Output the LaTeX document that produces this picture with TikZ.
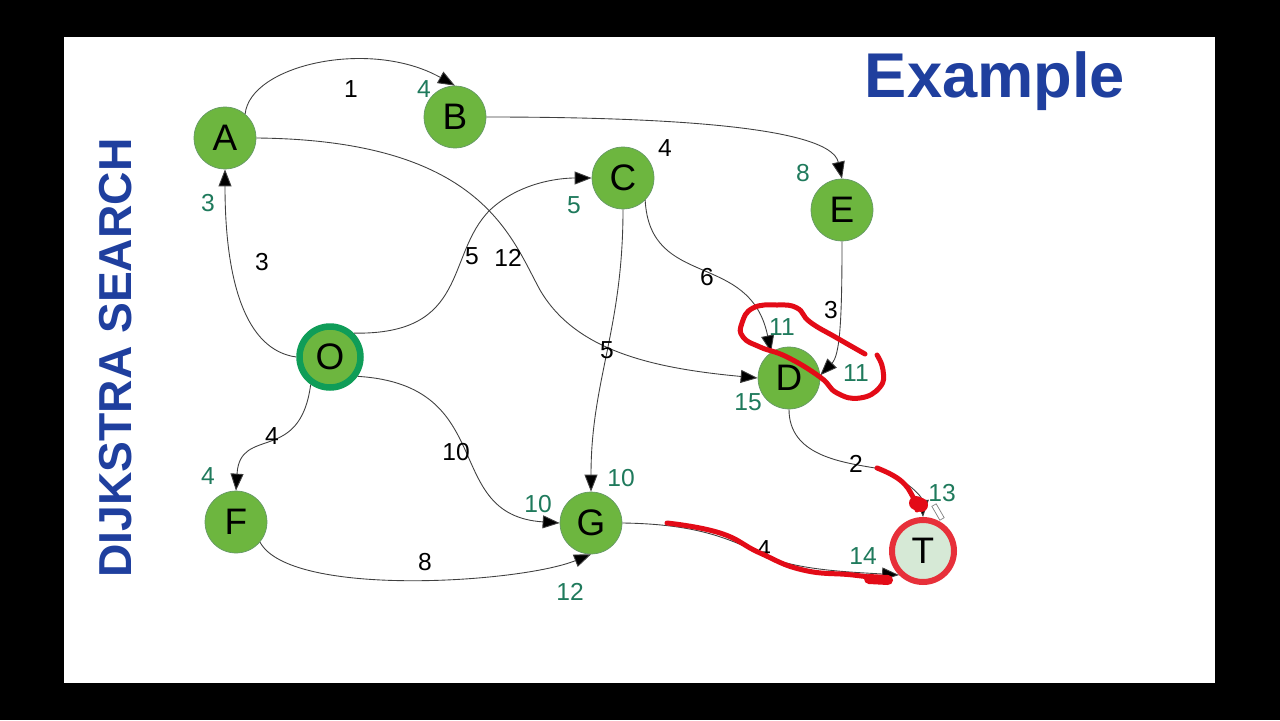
\documentclass[tikz,border=0pt]{standalone}
\usepackage{fontspec}
\setmainfont{Liberation Sans}
\usetikzlibrary{arrows.meta}
\definecolor{nodegreen}{HTML}{6DB63F}
\definecolor{costgreen}{HTML}{1F7A5C}
\definecolor{titleblue}{HTML}{1F3F9E}
\definecolor{penred}{HTML}{E30B17}
\definecolor{ringgreen}{HTML}{0F9D58}
\tikzset{
	vertex/.style={circle,draw=gray!80!green,fill=nodegreen,minimum size=1.24cm,inner sep=0pt,font=\fontsize{21}{21}\selectfont},
	edge/.style={draw=black!75,line width=0.5pt,-{Triangle[length=0.34cm,width=0.26cm,fill=black]}},
	cost/.style={font=\fontsize{14}{14}\selectfont,text=black,inner sep=0pt},
	mark cost/.style={font=\fontsize{14}{14}\selectfont,text=costgreen,inner sep=0pt},
	pen/.style={draw=penred,line width=0.1cm,line cap=round,line join=round}
}
\begin{document}
\begin{tikzpicture}[x=0.02cm,y=-0.02cm]
	\useasboundingbox (0,0) rectangle (1280,720);
	\fill[black] (0,0) rectangle (1280,720);
	\fill[white] (64,37) rectangle (1215,683);
	\node[font=\bfseries\fontsize{36}{36}\selectfont,text=titleblue] (title) at (995,81) {Example};
	\node[font=\bfseries\fontsize{26.3}{26.3}\selectfont,text=titleblue,rotate=90] (side) at (116,358) {DIJKSTRA SEARCH};
	% vertices
	\foreach \gang/\px/\py in {A/225/138,B/455/117,C/623/178,E/842/210,D/789/378,F/236/522,G/591/523}
		\node[vertex] (\gang) at (\px,\py) {\gang};
	\node[vertex,draw=ringgreen,line width=0.13cm,minimum size=1.22cm] (O) at (330,357) {O};
	\node[vertex,draw=penred!85!white,fill=green!30!gray!25,line width=0.12cm,minimum size=1.24cm] (T) at (923,551) {T};
	% edges
	\draw[edge] (A.50) .. controls (250,65) and (370,38) .. (B.north);
	\draw[edge] (A.east) .. controls (480,140) and (510,235) .. (540,290) .. controls (575,350) and (650,368) .. (D.west);
	\draw[edge] (O.west) .. controls (245,350) and (225,280) .. (A.south);
	\draw[edge] (O.45) .. controls (470,335) and (445,255) .. (490,210) .. controls (520,182) and (560,178) .. (C.west);
	\draw[edge] (C.-45) .. controls (650,290) and (750,250) .. (D.125);
	\draw[edge] (C.south) .. controls (623,330) and (591,380) .. (G.north);
	\draw[edge] (B.east) .. controls (650,117) and (830,125) .. (E.north);
	\draw[edge] (E.south) .. controls (842,320) and (840,355) .. (D.5);
	\draw[edge] (D.south) .. controls (789,455) and (840,462) .. (875,468) .. controls (900,475) and (922,495) .. (T.north);
	\draw[edge] (O.-125) .. controls (300,465) and (240,425) .. (F.north);
	\draw[edge] (O.-35) .. controls (500,385) and (440,515) .. (G.west);
	\draw[edge] (F.-40) .. controls (290,598) and (520,583) .. (G.south);
	\draw[edge] (G.east) .. controls (700,524) and (730,540) .. (760,553) .. controls (790,570) and (850,572) .. (T.-135);
	% costs
	\foreach \gang/\px/\py/\txt in {a/351/89/1,b/262/262/3,c/472/256/5,d/508/258/12,e/607/350/5,f/707/277/6,g/831/310/3,h/272/436/4,i/456/452/10,j/856/464/2,k/425/562/8,l/764/549/4,m/665/148/4}
		\node[cost] (cost\gang) at (\px,\py) {\txt};
	\foreach \gang/\px/\py/\txt in {a/424/89/4,b/208/203/3,c/574/205/5,d/803/173/8,e/782/327/11,f/856/373/11,g/748/402/15,h/208/476/4,i/621/478/10,j/538/504/10,k/570/592/12,l/942/493/13,m/863/556/14}
		\node[mark cost] (mark\gang) at (\px,\py) {\txt};
	% pen strokes
	\draw[pen] plot[smooth,tension=0.8] coordinates {(865,354) (837,338) (810,322) (797,308) (777,305) (753,308) (742,323) (743,337) (760,347) (787,357) (820,377) (837,393) (860,398) (880,387) (883,370) (877,355)};
	\draw[pen] plot[smooth,tension=0.8] coordinates {(877,468) (900,480) (913,497) (917,510)};
	\draw[pen,line width=0.28cm] (916,503) -- (921,505);
	\draw[pen] plot[smooth,tension=0.8] coordinates {(667,523) (720,533) (760,553) (803,570) (853,575) (890,580)};
	\draw[pen,line width=0.2cm] (869,579) -- (888,580);
	% pen cursor
	\draw[gray,fill=white,line width=0.4pt,rotate around={30:(938,512)}] (935.5,504) rectangle (940.5,520);
\end{tikzpicture}
\end{document}
